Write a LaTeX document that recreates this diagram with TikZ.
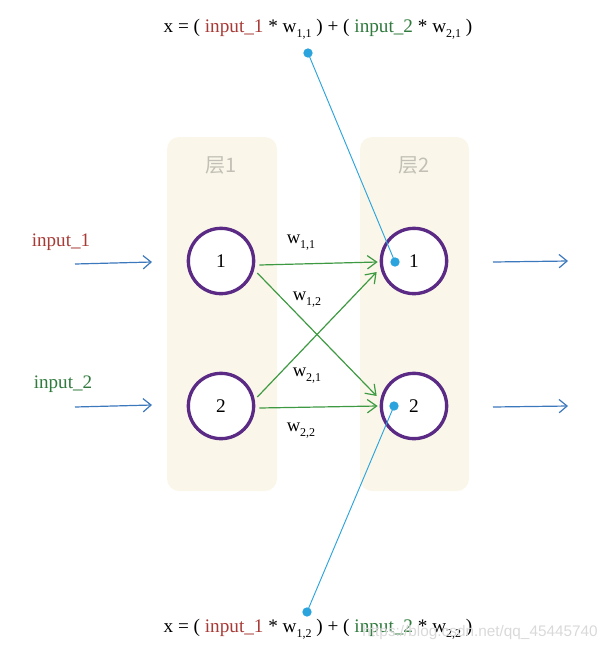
\documentclass[tikz,border=0pt]{standalone}
\usepackage{fontspec}
\setmainfont{Liberation Serif}
\newfontfamily\cjkfont{Noto Sans CJK SC}
\newfontfamily\wmfont{Liberation Sans}
\usetikzlibrary{arrows.meta,calc}
\definecolor{boxfill}{HTML}{FAF7EA}
\definecolor{neuron}{HTML}{5A2A85}
\definecolor{inred}{HTML}{A83A36}
\definecolor{ingreen}{HTML}{2F7A3C}
\definecolor{arrowblue}{HTML}{3C78BC}
\definecolor{wgreen}{HTML}{3E9A42}
\definecolor{dotblue}{HTML}{2BA4DE}
\definecolor{layergray}{HTML}{C2BFB6}
\newcommand{\wsub}[1]{w\raisebox{-0.6ex}{\fontsize{9}{10}\selectfont #1}}
\tikzset{
  layerbox/.style={fill=boxfill, draw=none, rounded corners=9pt},
  neuronnode/.style={circle, draw=neuron, line width=2.5pt, minimum size=49pt, inner sep=0pt, fill=white, font=\fontsize{14.5}{16}\selectfont},
  layerlabel/.style={text=layergray, font=\cjkfont\fontsize{15}{17}\selectfont},
  inarrow/.style={draw=arrowblue, line width=0.9pt, -{Straight Barb[length=6pt,width=10pt,line width=0.9pt]}},
  warrow/.style={draw=wgreen, line width=0.9pt, -{Straight Barb[length=7pt,width=10pt,line width=0.9pt]}},
  wlabel/.style={font=\fontsize{14}{16}\selectfont, inner sep=1pt},
  formula/.style={font=\fontsize{14.4}{17}\selectfont, inner sep=1pt},
  inlabel/.style={font=\fontsize{14.3}{17}\selectfont, inner sep=1pt},
  pointer/.style={draw=dotblue, line width=0.7pt},
  dotmark/.style={circle, fill=dotblue, inner sep=0pt, minimum size=7pt},
}
\begin{document}
\begin{tikzpicture}[x=0.75pt,y=-0.75pt]
\useasboundingbox (0,0) rectangle (609,658);
% layer boxes
\path[layerbox] (167,137) rectangle (277,491);
\path[layerbox] (360,137) rectangle (469,491);
\node[layerlabel] (l1) at (221,165) {层1};
\node[layerlabel] (l2) at (414,165) {层2};
% neurons
\node[neuronnode] (a1) at (221,261) {1};
\node[neuronnode] (a2) at (221,406) {2};
\node[neuronnode] (b1) at (414,261) {1};
\node[neuronnode] (b2) at (414,406) {2};
% inputs
\node[inlabel, text=inred] (in1) at (61,242) {input\_1};
\node[inlabel, text=ingreen] (in2) at (63,384) {input\_2};
\coordinate (s1) at (75,264);
\coordinate (t1) at (152,262);
\coordinate (s2) at (75,407);
\coordinate (t2) at (152,405);
\draw[inarrow] (s1) -- (t1);
\draw[inarrow] (s2) -- (t2);
% outputs
\coordinate (p1) at (493,262);
\coordinate (o1) at (568,261);
\coordinate (p2) at (493,407);
\coordinate (o2) at (568,406);
\draw[inarrow] (p1) -- (o1);
\draw[inarrow] (p2) -- (o2);
% weight arrows
\draw[warrow] ($(a1.east)+(4,4)$) -- ($(b1.west)+(-2,1)$);
\draw[warrow] ($(a1.east)+(2,12)$) -- ($(b2.west)+(-3,-10)$);
\draw[warrow] ($(a2.east)+(2,-9)$) -- ($(b1.west)+(-3,11)$);
\draw[warrow] ($(a2.east)+(4,2)$) -- ($(b2.west)+(-2,0)$);
\node[wlabel] (w11) at (301,243) {\wsub{1,1}};
\node[wlabel] (w12) at (307,300) {\wsub{1,2}};
\node[wlabel] (w21) at (307,376) {\wsub{2,1}};
\node[wlabel] (w22) at (301,431) {\wsub{2,2}};
% formulas
\node[formula] (f1) at (318,29) {x = ( \textcolor{inred}{input\_1} * \wsub{1,1} ) + ( \textcolor{ingreen}{input\_2} * \wsub{2,1} )};
\node[formula] (f2) at (318,629) {x = ( \textcolor{inred}{input\_1} * \wsub{1,2} ) + ( \textcolor{ingreen}{input\_2} * \wsub{2,2} )};
% pointers
\node[dotmark] (d1) at (308,53) {};
\node[dotmark] (e1) at (395,262) {};
\node[dotmark] (d2) at (307,612) {};
\node[dotmark] (e2) at (394,406) {};
\draw[pointer] (d1.center) -- (e1.center);
\draw[pointer] (d2.center) -- (e2.center);
% watermark
\node[anchor=east, text=black!15, font=\wmfont\fontsize{11.5}{13}\selectfont, inner sep=0pt] (wm) at (598,633) {https://blog.csdn.net/qq\_45445740};
\end{tikzpicture}
\end{document}
